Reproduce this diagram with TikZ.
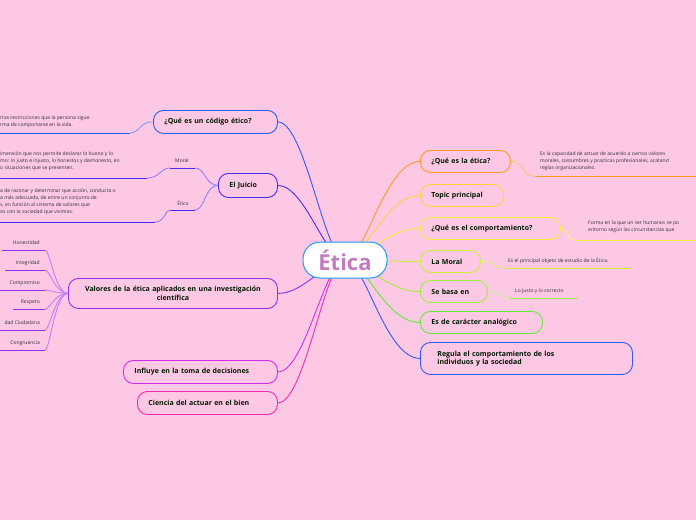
\documentclass[tikz,border=0pt]{standalone}
\usepackage{fontspec}
\setmainfont{Open Sans}
\begin{document}
\begin{tikzpicture}[x=1pt,y=-1pt,
 topic/.style 2 args={draw=#1,line width=0.9pt,rounded corners=10pt,anchor=north west,inner xsep=11pt,inner ysep=0pt,text width=#2pt-22pt,align=left,font=\bfseries\fontsize{7}{8.5}\selectfont,text=black!75!green!40!black},
 note/.style={anchor=west,inner sep=0pt,font=\fontsize{5}{7}\selectfont,align=left,text=black!80},
 lbl/.style={anchor=center,inner sep=0pt,font=\fontsize{5}{6}\selectfont,text=black!80},
 con/.style={draw=#1,line width=0.9pt}]
\definecolor{bg}{HTML}{FDC8E4}
\definecolor{cor}{HTML}{FF9A1E}
\definecolor{cye}{HTML}{FFD23C}
\definecolor{cye2}{HTML}{F2EE3A}
\definecolor{cyg}{HTML}{C8F03A}
\definecolor{cgr}{HTML}{9CF03A}
\definecolor{cgr2}{HTML}{5EEB3A}
\definecolor{cbl}{HTML}{2E5BF0}
\definecolor{cin}{HTML}{4A2AF0}
\definecolor{cpu}{HTML}{9A2AF0}
\definecolor{cma}{HTML}{D62AF0}
\definecolor{cpk}{HTML}{F02AB4}
\definecolor{ctx}{HTML}{C07CBE}
\fill[bg] (0,0) rectangle (696,520);
\useasboundingbox (0,0) rectangle (696,520);
\clip (0,0) rectangle (696,520);
\coordinate (cc) at (345,260);
% right nodes
\node[topic={cor}{90},minimum height=22pt] (q1) at (420,150) {¿Qué es la ética?};
\node[topic={cye}{83},minimum height=22pt] (tp) at (420,184) {Topic principal};
\node[topic={cye2}{140},minimum height=22pt] (q2) at (420,217) {¿Qué es el comportamiento?};
\node[topic={cyg}{60},minimum height=22pt] (lm) at (420,250) {La Moral};
\node[topic={cgr}{67},minimum height=22pt] (sb) at (420,280) {Se basa en};
\node[topic={cgr2}{122},minimum height=22pt] (ca) at (420,311) {Es de carácter analógico};
\node[topic={cbl}{200},minimum height=32pt,inner xsep=17pt] (rg) at (420,342) {Regula el comportamiento de los\\individuos y la sociedad};
% left nodes
\node[topic={cbl}{124},minimum height=23pt] (cod) at (153,110) {¿Qué es un código ético?};
\node[topic={cin}{59},minimum height=24pt] (ju) at (218,173) {El Juicio};
\node[topic={cpu}{209},minimum height=30pt,align=center] (va) at (68,278) {Valores de la ética aplicados en una investigación\\científica};
\node[topic={cma}{154},minimum height=23pt] (in) at (123,360) {Influye en la toma de decisiones};
\node[topic={cpk}{140},minimum height=23pt] (ci) at (137,391) {Ciencia del actuar en el bien};
% center connectors
\foreach \n/\col in {q1/cor,tp/cye,q2/cye2,lm/cyg,sb/cgr,ca/cgr2,rg/cbl}
  \draw[con=\col] (cc) .. controls (365,260) and (385,0|-\n.west) .. (\n.west);
\foreach \n/\col in {cod/cbl,ju/cin,va/cpu,in/cma,ci/cpk}
  \draw[con=\col] (cc) .. controls (325,260) and (305,0|-\n.east) .. (\n.east);
\node[draw=cbl!60!cyan,line width=1pt,fill=white,rounded corners=17pt,minimum width=84pt,minimum height=36pt,font=\bfseries\fontsize{22}{22}\selectfont,text=ctx] (c) at (cc) {Ética};
% notes right
\coordinate (n1) at (535,176); \coordinate (n1e) at (696,176);
\draw[con=cor!60] (q1.east) .. controls (525,161) and (520,176) .. (n1);
\draw[con=cor] (n1) -- (n1e);
\node[note] (t1) at (540,161) {Es la capacidad de actuar de acuerdo a ciertos  valores\\morales, costumbres y  practicas profesionales, acatand\\reglas organizacionales.};
\coordinate (n2) at (575,240); \coordinate (n2e) at (696,240);
\draw[con=cye2!70] (q2.east) .. controls (570,228) and (565,240) .. (n2);
\draw[con=cye2] (n2) -- (n2e);
\node[note] (t2) at (588,227) {Forma en la que un ser humanos se po\\entorno   según las circunstancias que};
\coordinate (n3) at (505,268); \coordinate (n3e) at (632,268);
\draw[con=cyg!60] (lm.east) .. controls (495,261) and (495,268) .. (n3);
\draw[con=cyg] (n3) -- (n3e);
\node[note] (t3) at (508,261) {Es el principal objeto de estudio de la Ética.};
\coordinate (n4) at (510,298); \coordinate (n4e) at (578,298);
\draw[con=cgr!60] (sb.east) .. controls (500,291) and (500,298) .. (n4);
\draw[con=cgr] (n4) -- (n4e);
\node[note] (t4) at (515,291) {Lo justo y lo correcto};
% notes left
\coordinate (m1) at (130,133); \coordinate (m1e) at (0,133);
\draw[con=cbl!60] (cod.west) .. controls (140,121) and (140,133) .. (m1);
\draw[con=cbl] (m1) -- (m1e);
\node[note] (s1) at (0,121.5) {rtas restricciones que la persona sigue\\rma de comportarse en la vida.};
\coordinate (mo) at (195,168); \coordinate (mo2) at (170,168);
\coordinate (et) at (195,210); \coordinate (et2) at (170,210);
\draw[con=cin!60] (ju.west) .. controls (205,185) and (205,168) .. (mo);
\draw[con=cin!60] (ju.west) .. controls (205,185) and (205,210) .. (et);
\draw[con=cin] (mo) -- (mo2); \draw[con=cin] (et) -- (et2);
\node[lbl] (lmo) at (182,161) {Moral};
\node[lbl] (let) at (183,203) {Ético};
\coordinate (m2) at (147,178); \coordinate (m2e) at (0,178);
\coordinate (m3) at (155,222); \coordinate (m3e) at (0,222);
\draw[con=cin!60] (mo2) .. controls (160,168) and (160,178) .. (m2);
\draw[con=cin!60] (et2) .. controls (165,210) and (165,222) .. (m3);
\draw[con=cin] (m2) -- (m2e); \draw[con=cin] (m3) -- (m3e);
\node[note] (s2) at (0,161) {imensión que nos permite declarar lo bueno y lo\\mo: lo justo e injusto, lo honestos y deshonesto, en\\ o situaciones que se presenten.};
\node[note] (s3) at (0,201.5) {a de razonar y determinar  que acción, conducta o\\a más adecuada, de entre un conjunto de\\s, en función al sistema de valores  que\\os con la sociedad que vivimos.};
% values
\foreach \y/\xl/\t [count=\i] in {250/2/Honestidad,270/5/Integridad,290/0/Compromiso,309/13/Respeto,330/0/dad Ciudadana,350/0/Congruencia}{
  \coordinate (v\i) at (45,\y); \coordinate (w\i) at (\xl,\y);
  \draw[con=cpu!60] (va.west) .. controls (55,293) and (50,\y) .. (v\i);
  \draw[con=cpu] (v\i) -- (w\i);
  \node[lbl,anchor=east] (vl\i) at (40,\y-7) {\t};
}
\end{tikzpicture}
\end{document}
